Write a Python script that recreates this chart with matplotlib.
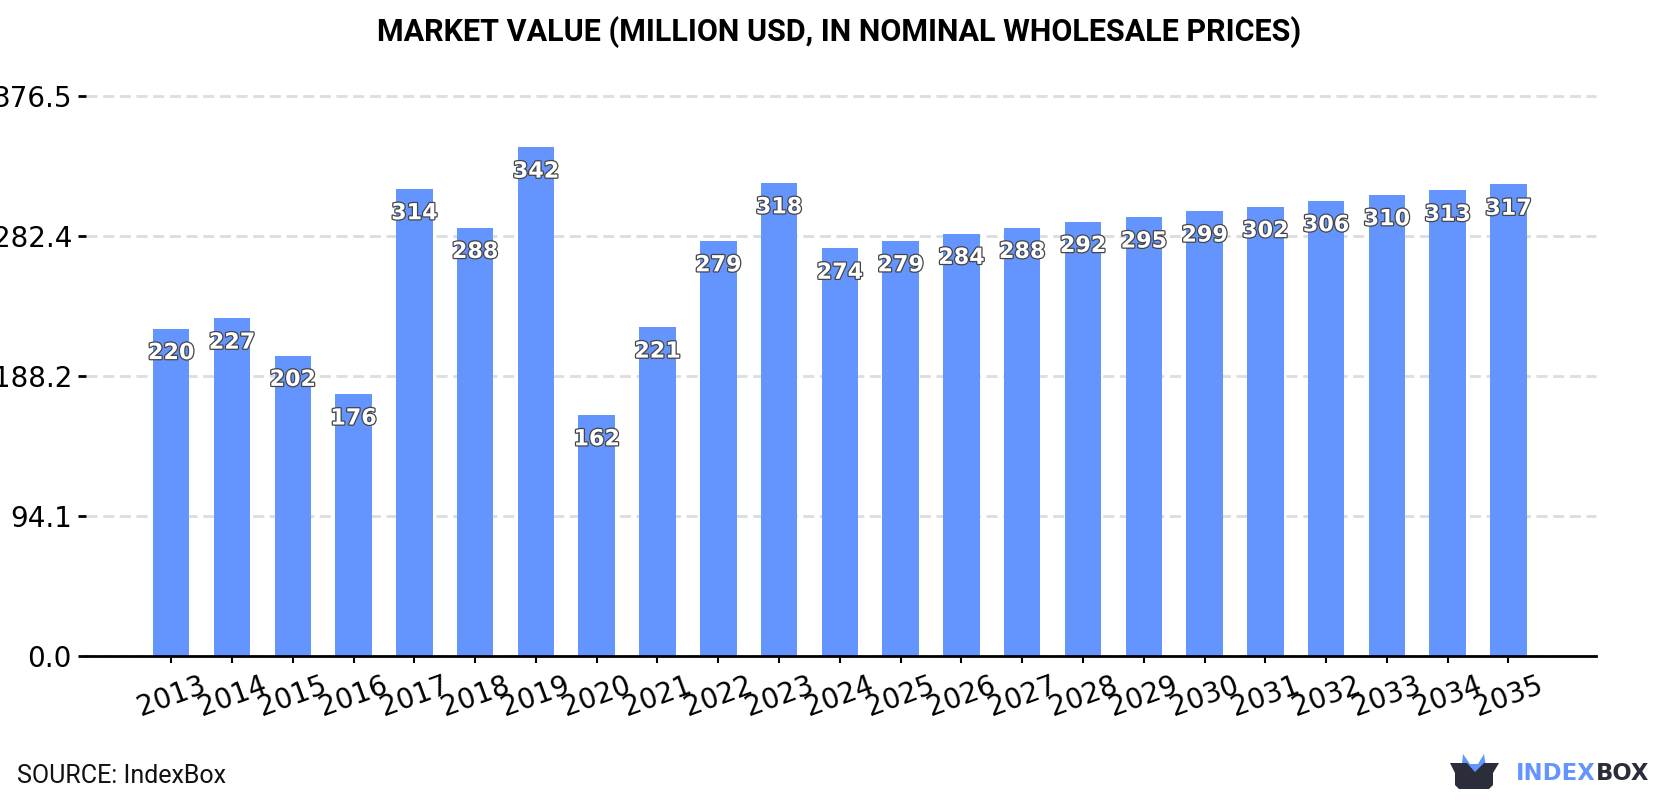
import matplotlib
matplotlib.use("Agg")
import matplotlib.pyplot as plt
import matplotlib.patheffects as pe
from matplotlib.patches import Polygon

years = list(range(2013, 2036))
values = [220, 227, 202, 176, 314, 288, 342, 162, 221, 279, 318, 274, 279, 284, 288, 292, 295, 299, 302, 306, 310, 313, 317]
y_ticks = [0.0, 94.1, 188.2, 282.4, 376.5]
y_labels = ["0.0", "94.1", "188.2", "282.4", "376.5"]

blue = "#6495ff"
dark = "#2b2d3a"

W, H = 1680, 800
fig = plt.figure(figsize=(16.8, 8), dpi=100)
ax = fig.add_axes([85.5 / W, 1 - 656 / H, (1596 - 85.5) / W, (656 - 96) / H])

ax.bar(range(len(years)), values, width=0.6, color=blue, zorder=3)

# value labels sit just under the top of each bar
for i, v in enumerate(values):
    ax.annotate(str(v), (i, v), xytext=(0, -17.5), textcoords="offset points",
                ha="center", va="center", color="white", fontsize=16, fontweight="bold",
                family="DejaVu Sans", zorder=5,
                path_effects=[pe.withStroke(linewidth=1.8, foreground="#444444")])

ax.set_xlim(-1.41, 23.44)
ax.set_ylim(0, 376.5)
ax.set_xticks(range(len(years)))
ax.set_xticklabels(years, rotation=20, fontsize=20, family="DejaVu Sans")
ax.set_yticks(y_ticks)
ax.set_yticklabels(y_labels, fontsize=20, family="DejaVu Sans")
ax.tick_params(axis="x", length=5, width=1.5, pad=6)
ax.tick_params(axis="y", length=5.8, width=2, pad=4)
ax.grid(axis="y", color="#dddddd", linestyle=(0, (4, 2)), linewidth=2, zorder=0)
for s in ["top", "left", "right"]:
    ax.spines[s].set_visible(False)
ax.spines["bottom"].set_linewidth(2)
ax.spines["bottom"].set_zorder(6)
for g in ax.get_ygridlines():
    g.set_clip_on(False)

fig.text(839 / W, 1 - 32 / H, "MARKET VALUE (MILLION USD, IN NOMINAL WHOLESALE PRICES)",
         ha="center", va="center", fontsize=22, fontweight="bold", family="Roboto", color="black")
fig.text(17 / W, 1 - 776 / H, "SOURCE: IndexBox", ha="left", va="center", fontsize=18, family="Roboto", color="#111111")

# logo: box with blue ears, then the wordmark
logo = fig.add_axes([0, 0, 1, 1], facecolor="none")
logo.set_xlim(0, W)
logo.set_ylim(H, 0)
logo.axis("off")
logo.add_patch(Polygon([[1461, 773], [1463, 754], [1470, 764], [1478, 764], [1484, 754], [1487, 773], [1475, 773]],
                       closed=True, color=blue, lw=0))
logo.add_patch(Polygon([[1450, 763], [1467, 763], [1475, 772], [1484, 763], [1499, 763], [1493, 773], [1493, 785],
                        [1489, 789], [1459, 789], [1455, 785], [1455, 773]], closed=True, color=dark, lw=0))
t1 = logo.text(1516, 774, "INDEX", ha="left", va="center", fontsize=16.4, fontweight="bold", family="DejaVu Sans", color=blue)
fig.canvas.draw()
box = t1.get_window_extent()
logo.text(box.x1 + 0.5, 774, "BOX", ha="left", va="center", fontsize=16.4, fontweight="bold", family="DejaVu Sans", color=dark)

fig.savefig("out.png", dpi=100)
